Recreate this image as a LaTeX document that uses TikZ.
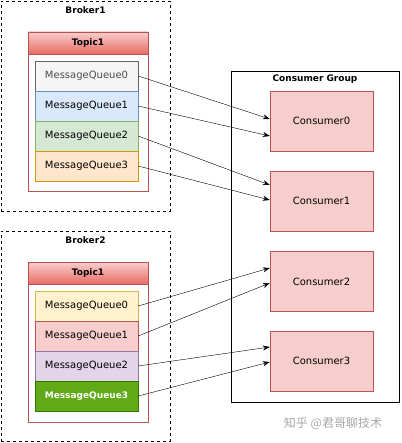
\documentclass[tikz,border=0pt]{standalone}
\usepackage{fontspec}
\setmainfont{DejaVu Sans}
\newfontfamily\cjkfont{Noto Sans CJK SC}
\usetikzlibrary{arrows.meta}

\definecolor{qgrayfill}{HTML}{F5F5F5}\definecolor{qgraydraw}{HTML}{666666}
\definecolor{qbluefill}{HTML}{DAE8FC}\definecolor{qbluedraw}{HTML}{6C8EBF}
\definecolor{qgreenfill}{HTML}{D5E8D4}\definecolor{qgreendraw}{HTML}{82B366}
\definecolor{qorangefill}{HTML}{FFE6CC}\definecolor{qorangedraw}{HTML}{D79B00}
\definecolor{qyellowfill}{HTML}{FFF2CC}\definecolor{qyellowdraw}{HTML}{D6B656}
\definecolor{qredfill}{HTML}{F8CECC}\definecolor{qreddraw}{HTML}{B85450}
\definecolor{qpurplefill}{HTML}{E1D5E7}\definecolor{qpurpledraw}{HTML}{9673A6}
\definecolor{qdarkgreenfill}{HTML}{60A917}\definecolor{qdarkgreendraw}{HTML}{2D7600}
\definecolor{topicbottom}{HTML}{EA6B66}

\tikzset{
	broker/.style={draw, dashed, inner sep=0pt, minimum width=169pt, minimum height=210pt},
	topicbox/.style={draw=qreddraw, fill=white, inner sep=0pt, minimum width=120pt},
	topichead/.style={draw=qreddraw, top color=qredfill, bottom color=topicbottom, inner sep=0pt, minimum width=120pt, minimum height=22pt, font=\bfseries\fontsize{9}{11}\selectfont},
	title/.style={font=\bfseries\fontsize{9}{11}\selectfont},
	queue/.style={inner sep=0pt, minimum width=103pt, minimum height=30pt, font=\fontsize{10}{12}\selectfont},
	consumer/.style={draw=qreddraw, fill=qredfill, inner sep=0pt, minimum width=103pt, minimum height=60pt, font=\fontsize{10}{12}\selectfont},
	link/.style={-{Stealth[length=7pt,width=5pt]}, thin}
}

\begin{document}
\begin{tikzpicture}[x=1pt, y=-1pt]
				\useasboundingbox (0,0) rectangle (401,443);
				
				% Brokers
				\node[broker] (b1) at (85.5,106) {};
				\node[title] (b1label) at (85.5,10) {Broker1};
				\node[broker] (b2) at (85.5,336) {};
				\node[title] (b2label) at (85.5,240) {Broker2};
				
				% Topics
				\node[topicbox, minimum height=159pt] (t1) at (88,111.5) {};
				\node[topichead] (t1head) at (88,43) {Topic1};
				\node[topicbox, minimum height=160pt] (t2) at (88,342) {};
				\node[topichead] (t2head) at (88,273) {Topic1};
				
				% Queues of Broker1
				\node[queue, draw=qgraydraw, fill=qgrayfill, text=black!70] (a0) at (86.5,76) {MessageQueue0};
				\node[queue, draw=qbluedraw, fill=qbluefill] (a1) at (86.5,106) {MessageQueue1};
				\node[queue, draw=qgreendraw, fill=qgreenfill] (a2) at (86.5,136) {MessageQueue2};
				\node[queue, draw=qorangedraw, fill=qorangefill] (a3) at (86.5,166) {MessageQueue3};
				
				% Queues of Broker2
				\node[queue, draw=qyellowdraw, fill=qyellowfill] (q0) at (86.5,306) {MessageQueue0};
				\node[queue, draw=qreddraw, fill=qredfill] (q1) at (86.5,336) {MessageQueue1};
				\node[queue, draw=qpurpledraw, fill=qpurplefill] (q2) at (86.5,366) {MessageQueue2};
				\node[queue, draw=qdarkgreendraw, fill=qdarkgreenfill, text=white, font=\bfseries\fontsize{9}{11}\selectfont] (q3) at (86.5,396) {MessageQueue3};
				
				% Consumer group
				\node[draw, inner sep=0pt, minimum width=168pt, minimum height=331pt] (cg) at (315,236.5) {};
				\node[title] (cglabel) at (315,79) {Consumer Group};
				\node[consumer] (c0) at (321.5,121) {Consumer0};
				\node[consumer] (c1) at (321.5,201) {Consumer1};
				\node[consumer] (c2) at (321.5,281.5) {Consumer2};
				\node[consumer] (c3) at (321.5,361) {Consumer3};
				
				% Links
				\draw[link] (a0.east) -- ([yshift=2pt]c0.west);
				\draw[link] (a1.east) -- ([yshift=-15pt]c0.west);
				\draw[link] (a2.east) -- ([yshift=16pt]c1.west);
				\draw[link] (a3.east) -- ([yshift=1pt]c1.west);
				\draw[link] (q0.east) -- ([yshift=13.5pt]c2.west);
				\draw[link] (q1.east) -- ([yshift=-1.5pt]c2.west);
				\draw[link] (q2.east) -- ([yshift=14pt]c3.west);
				\draw[link] (q3.east) -- ([yshift=-1pt]c3.west);
				
				% Watermark
				\node[text=black!35, font=\cjkfont\fontsize{12}{14}\selectfont] (mark) at (333,423) {知乎 @君哥聊技术};
			\end{tikzpicture}
\end{document}
